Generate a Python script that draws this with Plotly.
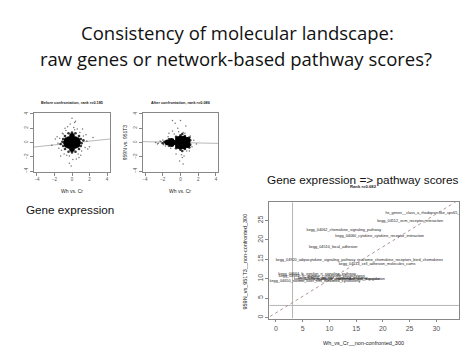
import plotly.graph_objects as go

W, H = 474, 355

# ---------------- data ----------------
# small plot 1: "Before confrontation" (dense core + ring + halo), hand-estimated
before_core_x = [0.0, -0.4, 0.4, 0.0, 0.0, -0.7, 0.7, 0.0, 0.0, -0.35, 0.35, -0.35, 0.35, -0.6, 0.6, -0.6, 0.6]
before_core_y = [0.0, 0.0, 0.0, 0.55, -0.55, 0.0, 0.0, 0.95, -0.95, 0.5, 0.5, -0.5, -0.5, 0.35, 0.35, -0.35, -0.35]
before_ring_x = [-1.1, 1.1, 0.0, 0.0, -0.8, 0.8, -0.8, 0.8, -1.0, 1.0, -1.0, 1.0, -0.4, 0.4, -0.4, 0.4, -1.3, 1.3]
before_ring_y = [0.1, -0.1, 1.4, -1.4, 0.9, 0.9, -0.9, -0.9, 0.5, 0.5, -0.5, -0.5, 1.3, 1.3, -1.3, -1.3, -0.2, 0.3]
before_halo_x = [-1.4, -1.2, -1.1, -0.9, -0.7, -0.3, 0.3, 0.7, 0.9, 1.1, 1.3, 1.5,
                 -1.6, -1.0, -0.6, 0.2, 0.6, 1.0, 1.7, -0.2, 0.1, -0.5, 0.5, -1.9,
                 2.0, -0.3, 0.4, -1.3, 1.2, -0.8, 0.8, 0.0, -2.3, 2.4, -0.1, 0.3,
                 -1.7, 1.8, -1.5, 1.6]
before_halo_y = [0.6, -1.1, 1.3, -1.6, 1.7, -1.9, 1.8, -1.6, 1.4, -1.2, 0.9, -0.7,
                 -0.1, 1.2, -1.8, 2.1, 1.9, -1.8, 0.2, 2.6, -2.4, 2.2, -2.3, 0.5,
                 -0.6, -2.9, 3.0, -1.9, 1.9, 2.0, -2.1, 3.4, -0.4, 0.7, -3.3, 2.8,
                 0.8, -0.9, -0.8, 1.1]
before_fit = (0.13, -0.07)   # slope, intercept

# small plot 2: "After confrontation"
after_core_x = [0.0, 0.5, 0.8, -0.4, -0.8, 0.0, 0.0, 0.4, 0.4, -0.3, -0.3, 0.8, 0.8, -1.2, -1.5, -1.0, -1.0]
after_core_y = [0.0, 0.0, 0.0, 0.0, 0.0, 0.6, -0.6, 0.55, -0.55, 0.5, -0.5, 0.4, -0.4, 0.0, 0.0, 0.25, -0.25]
after_ring_x = [0.0, 0.0, 0.5, 0.5, -0.5, -0.5, 1.1, 1.1, -1.8, -2.0, -1.3, -1.3, 0.2, 0.2, 1.0, 1.0]
after_ring_y = [1.0, -1.0, 0.9, -0.9, 0.8, -0.8, 0.3, -0.3, 0.1, -0.1, 0.45, -0.45, 1.2, -1.2, 0.7, -0.7]
after_halo_x = [-1.6, -1.9, -2.2, -2.5, -1.7, -2.0, -1.4, -1.1, -0.7, -0.2, 0.3, 0.7,
                1.1, 1.3, 1.5, -0.5, 0.1, 0.5, -0.3, 0.2, -0.9, 0.6, -0.1, 0.4,
                -2.8, -1.3, 1.0, -0.6, 0.0, -0.9, 0.3, 1.8, -2.3, -2.6]
after_halo_y = [0.3, -0.3, 0.1, -0.1, -0.5, 0.35, 0.8, -0.8, 1.2, 1.5, 1.4, -1.2,
                0.9, -0.6, 0.3, -1.6, -1.7, 1.3, 2.0, -2.1, 1.6, 2.3, -2.6, -1.9,
                0.0, 1.3, -1.2, 2.7, 3.1, 3.1, -3.0, -0.2, 0.2, -0.2]
after_fit = (-0.03, 0.0)

small_ticks = [-4, -2, 0, 2, 4]

# big plot: pathway scores
path_x = [-1.25, -0.5, 0.6, 0.1, 1.07, 2.1, 1.25, 1.7, 1.5, 2.3, 2.0, 2.9, 3.2, 3.6,
          3.8, 4.0, 4.2, 3.7, 4.4, 4.1, 3.9, 4.2, 4.5, 4.8, 5.2, 5.6, 6.05, 6.3, 6.7,
          7.0, 7.5, 7.7, 7.0, 5.0, 10.6, 12.6, 3.9, 5.7, 2.6, 3.6, 4.2, 4.6, 5.75,
          0.75, 3.5, 3.7, 3.6, 3.9, 3.5, 4.5, 6.0, 7.0, 8.0, 9.0, 11.0, 12.0, 5.5,
          4.0, 6.5, 2.5]
path_y = [0.15, 1.9, 1.9, 4.5, 4.0, 4.6, 6.2, 1.6, 0.6, 2.8, 7.3, 4.7, 5.4, 5.4,
          5.6, 5.0, 6.0, 6.5, 4.9, 7.2, 4.7, 8.5, 7.3, 3.7, 2.8, 4.2, 7.4, 6.0, 5.1,
          4.5, 3.7, 4.5, 8.3, 12.6, 5.4, 0.0, 0.6, 8.3, 3.0, 3.2, 2.8, 2.1, 2.1,
          7.4, 5.2, 5.6, 5.0, 5.3, 9.5, 10.0, 9.8, 10.2, 9.5, 10.5, 10.0, 9.8, 11.0,
          8.8, 8.9, 9.6]
label_text = ["hs_genes__class_a_rhodopsin-like_ups65_",
              "kegg_04512_ecm_receptor_interaction",
              "kegg_04062_chemokine_signaling_pathway",
              "kegg_04060_cytokine_cytokine_receptor_interaction",
              "kegg_04510_focal_adhesion",
              "kegg_04920_adipocytokine_signaling_pathway",
              "reactome_chemokine_receptors_bind_chemokines",
              "kegg_04514_cell_adhesion_molecules_cams",
              "kegg_04664_fc_epsilon_ri_signaling_pathway",
              "kegg_04666_fc_gamma_r_mediated_phagocytosis",
              "kegg_04630_jak_stat_signaling_pathway",
              "kegg_04670_leukocyte_transendothelial_migration",
              "kegg_04610_complement_and_coagulation",
              "kegg_04650_natural_killer_cell_mediated_cytotoxicity"]
label_x = [27.4, 25.1, 12.7, 19.4, 10.7, 7.4, 23.2, 18.9, 7.7, 8.6, 10.6, 11.4, 13.5, 7.3]
label_y = [26.9, 24.8, 22.5, 21.1, 18.2, 14.7, 14.7, 13.8, 11.3, 10.6, 10.2, 9.8, 10.0, 9.3]
path_fit = (0.85, 1.2)
threshold = 3.1
big_xticks = [0, 5, 10, 15, 20, 25, 30]
big_yticks = [0, 5, 10, 15, 20, 25]

# ---------------- figure ----------------
def dom_x(a, b):
    return [a / W, b / W]

def dom_y(top, bottom):
    return [1 - bottom / H, 1 - top / H]

fig = go.Figure()

def add_small(core_x, core_y, ring_x, ring_y, halo_x, halo_y, fit, xr, ax):
    xa = "x" if ax == 1 else f"x{ax}"
    ya = "y" if ax == 1 else f"y{ax}"
    fig.add_trace(go.Scatter(x=[xr[0], xr[1]],
                             y=[fit[0] * xr[0] + fit[1], fit[0] * xr[1] + fit[1]],
                             mode="lines", xaxis=xa, yaxis=ya,
                             line=dict(color="#b8b8b8", width=1),
                             hoverinfo="skip", showlegend=False))
    fig.add_trace(go.Scatter(x=halo_x, y=halo_y, mode="markers", xaxis=xa, yaxis=ya,
                             marker=dict(size=1.5, color="rgba(0,0,0,0.55)"),
                             hoverinfo="skip", showlegend=False))
    fig.add_trace(go.Scatter(x=ring_x, y=ring_y, mode="markers", xaxis=xa, yaxis=ya,
                             marker=dict(size=2.6, color="rgba(0,0,0,0.8)"),
                             hoverinfo="skip", showlegend=False))
    fig.add_trace(go.Scatter(x=core_x, y=core_y, mode="markers", xaxis=xa, yaxis=ya,
                             marker=dict(size=5.5, color="black"),
                             hoverinfo="skip", showlegend=False))

xr1 = [-4.34, 4.34]
xr2 = [-4.26, 4.23]
yr_small = [-4.1, 4.13]
add_small(before_core_x, before_core_y, before_ring_x, before_ring_y,
          before_halo_x, before_halo_y, before_fit, xr1, 1)
add_small(after_core_x, after_core_y, after_ring_x, after_ring_y,
          after_halo_x, after_halo_y, after_fit, xr2, 2)

# big plot
xr3 = [-1.25, 34.3]
yr3 = [-0.26, 29.7]
fig.add_trace(go.Scatter(x=[threshold, threshold], y=yr3, mode="lines", xaxis="x3", yaxis="y3",
                         line=dict(color="#b5b5b5", width=1), hoverinfo="skip", showlegend=False))
fig.add_trace(go.Scatter(x=xr3, y=[threshold, threshold], mode="lines", xaxis="x3", yaxis="y3",
                         line=dict(color="#b5b5b5", width=1), hoverinfo="skip", showlegend=False))
fx0, fx1 = -1.1, 34.1
fig.add_trace(go.Scatter(x=[fx0, fx1], y=[path_fit[0] * fx0 + path_fit[1], path_fit[0] * fx1 + path_fit[1]],
                         mode="lines", xaxis="x3", yaxis="y3",
                         line=dict(color="#a07878", width=0.8, dash="dot"),
                         hoverinfo="skip", showlegend=False))
fig.add_trace(go.Scatter(x=path_x, y=path_y, mode="markers", xaxis="x3", yaxis="y3",
                         marker=dict(size=3.5, color="rgba(0,0,0,0)", symbol="circle-open",
                                     line=dict(color="#333333", width=0.7)),
                         hoverinfo="skip", showlegend=False))
fig.add_trace(go.Scatter(x=label_x, y=label_y, mode="text", text=label_text, xaxis="x3", yaxis="y3",
                         textfont=dict(family="Liberation Sans", size=3.8, color="#222222"),
                         hoverinfo="skip", showlegend=False))

small_tickfont = dict(family="Liberation Sans", size=4.5, color="#555555")
axis_common = dict(showgrid=False, zeroline=False, showline=True, linecolor="#888888",
                   linewidth=0.8, mirror=True, ticks="outside", ticklen=3,
                   tickcolor="#888888", tickwidth=0.6)

layout = dict(
    width=W, height=H, margin=dict(l=0, r=0, t=0, b=0),
    paper_bgcolor="white", plot_bgcolor="white", showlegend=False,
    xaxis=dict(domain=dom_x(34, 110), range=xr1, tickvals=small_ticks,
               tickfont=small_tickfont, anchor="y", **axis_common),
    yaxis=dict(domain=dom_y(112.7, 171.7), range=yr_small, tickvals=small_ticks,
               tickangle=-90, tickfont=small_tickfont, anchor="x", **axis_common),
    xaxis2=dict(domain=dom_x(142.7, 218), range=xr2, tickvals=small_ticks,
                tickfont=small_tickfont, anchor="y2", **axis_common),
    yaxis2=dict(domain=dom_y(112.7, 171.7), range=yr_small, tickvals=small_ticks,
                tickangle=-90, tickfont=small_tickfont, anchor="x2", **axis_common),
    xaxis3=dict(domain=dom_x(269.3, 459.3), range=xr3, tickvals=big_xticks,
                tickfont=dict(family="Liberation Sans", size=7, color="#555555"),
                anchor="y3", **axis_common),
    yaxis3=dict(domain=dom_y(202.3, 319.3), range=yr3, tickvals=big_yticks, tickangle=-90,
                tickfont=dict(family="Liberation Sans", size=7, color="#555555"),
                anchor="x3", **axis_common),
)

def ann(text, x, y, size, family="Liberation Sans", color="#222222", angle=0, bold=False):
    if bold:
        text = f"<b>{text}</b>"
    return dict(text=text, x=x / W, y=1 - y / H, xref="paper", yref="paper",
                showarrow=False, xanchor="center", yanchor="middle", textangle=angle,
                font=dict(family=family, size=size, color=color))

title_font = "Open Sans, sans-serif"
annotations = [
    ann("Consistency of molecular landscape:", 237, 32, 18.5, title_font, "#111111"),
    ann("raw genes or network-based pathway scores?", 236, 58, 18.5, title_font, "#111111"),
    ann("Before confrontation, rank r=0.185", 72, 103, 3.8, bold=True),
    ann("After confrontation, rank r=0.086", 180, 103, 3.8, bold=True),
    ann("Wh vs. Cr", 72, 191, 5),
    ann("Wh vs. Cr", 180, 191, 5),
    ann("959N vs. 951T3", 125, 142, 5, angle=-90),
    ann("Gene expression", 69.5, 210, 11.7, color="#111111"),
    ann("Gene expression => pathway scores", 363, 180, 11.8, color="#111111"),
    ann("Rank r=0.682", 363, 187, 4.2, bold=True),
    ann("Wh_vs_Cr__non-confronted_300", 363, 344, 5.5),
    ann("959N_vs_951T3__non-confronted_300", 245, 262, 5.5, angle=-90),
]
layout["annotations"] = annotations
fig.update_layout(**layout)

fig.write_html("out.html", config={"displayModeBar": False},
               post_script="document.body.style.margin='0';")
